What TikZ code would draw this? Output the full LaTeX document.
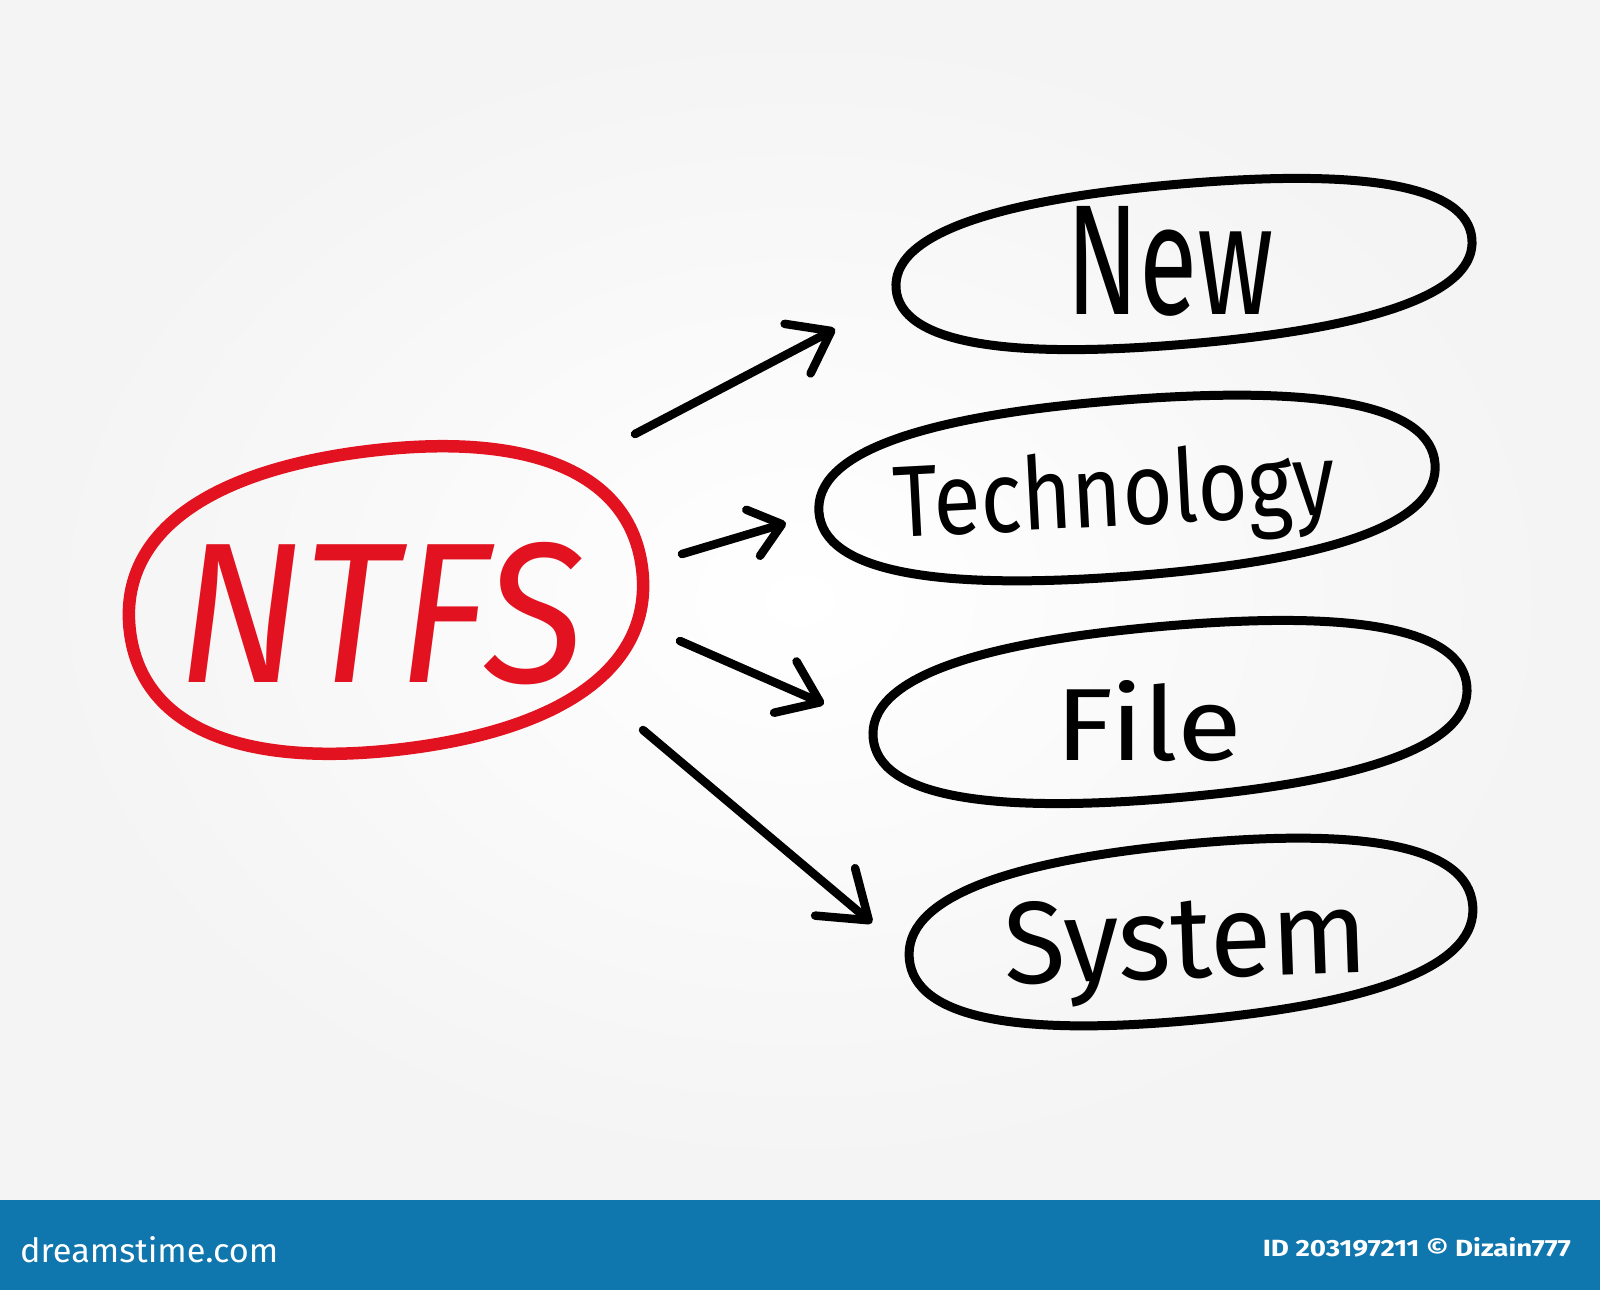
\documentclass[tikz,border=0pt]{standalone}
\usepackage{fontspec}
\setmainfont{Fira Sans}
\usetikzlibrary{arrows.meta}
\definecolor{ntfsred}{RGB}{226,18,32}
\definecolor{barblue}{RGB}{16,118,174}
% hand-drawn oval: [style]{center}{half width}{half height}{rotation}{k}
\newcommand\handoval[6][]{%
  \begin{scope}[shift={#2}, rotate=#5]
    \draw[ovalline,#1] (#3,0)
      .. controls (#3,{#6*#4}) and ({#6*#3},#4) .. (0,#4)
      .. controls ({-#6*#3},#4) and (-#3,{#6*#4}) .. (-#3,0)
      .. controls (-#3,{-#6*#4}) and ({-#6*#3},-#4) .. (0,-#4)
      .. controls ({#6*#3},-#4) and (#3,{-#6*#4}) .. cycle;
  \end{scope}}
\begin{document}
\begin{tikzpicture}[x=1pt,y=-1pt,
  ovalline/.style={line width=9pt, line join=round},
  word/.style={anchor=base, inner sep=0pt},
  arr/.style={line width=8.5pt, line cap=round,
    -{Straight Barb[length=38pt,width=56pt,round]}}]
\useasboundingbox (0,0) rectangle (1600,1290);
\shade[inner color=white, outer color=gray!9] (0,0) rectangle (1600,1200);
\fill[barblue] (0,1200) rectangle (1600,1290);

% ovals
\handoval[draw=ntfsred, line width=12.5pt]{(386,600)}{258}{150}{7}{0.64}
\handoval{(1184,264)}{289}{80}{5}{0.66}
\handoval{(1127,488)}{309}{88}{4.5}{0.66}
\handoval{(1170,712)}{298}{86}{5}{0.66}
\handoval{(1191,932)}{283}{88}{5.5}{0.66}

% words
\node[word, text=ntfsred] (ntfst) at (381,682) {\resizebox{406pt}{140pt}{\itshape NTFS}};
\node[word] (newt) at (1170,314) {\resizebox{207pt}{108pt}{New}};
\node[word, rotate=3] (techt) at (1116,526) {\resizebox{441pt}{76pt}{Technology}};
\node[word] (filet) at (1149,760) {\resizebox{186pt}{80pt}{File}};
\node[word, rotate=2] (syst) at (1187,978) {\resizebox{364pt}{82pt}{System}};

% arrows
\coordinate (a1s) at (635,434); \coordinate (a1e) at (835,329);
\coordinate (a2s) at (682,554); \coordinate (a2e) at (786,523);
\coordinate (a3s) at (680,641); \coordinate (a3e) at (824,704);
\coordinate (a4s) at (643,730); \coordinate (a4e) at (872,923);
\draw[arr] (a1s) -- (a1e);
\draw[arr, -{Straight Barb[length=30pt,width=48pt,round]}] (a2s) -- (a2e);
\draw[arr] (a3s) -- (a3e);
\draw[arr, -{Straight Barb[length=44pt,width=62pt,round]}] (a4s) -- (a4e);

% footer
\node[anchor=base west, inner sep=0pt, text=white] (logo) at (20,1262) {\resizebox{258pt}{26pt}{dreamstime.com}};
\node[anchor=base east, inner sep=0pt, text=white] (credit) at (1571,1256) {\resizebox{308pt}{19pt}{\bfseries ID 203197211 © Dizain777}};
\end{tikzpicture}
\end{document}
